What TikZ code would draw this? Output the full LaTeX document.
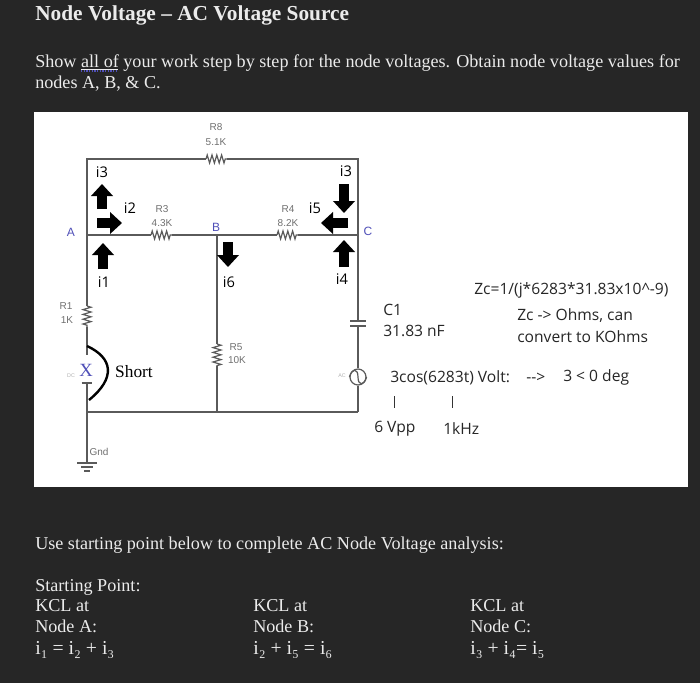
\documentclass[tikz,border=0pt]{standalone}
\usepackage{fontspec}
\setmainfont{Liberation Serif}
\newfontfamily\labelfont{Liberation Sans}
\newfontfamily\notefont{Open Sans}
\usepackage{tikz}
\usetikzlibrary{arrows.meta}
\usetikzlibrary{decorations.pathmorphing}
\definecolor{pagebg}{HTML}{262626}
\definecolor{wiregray}{HTML}{5A5A5A}
\definecolor{partgray}{HTML}{707070}
\definecolor{nodeblue}{HTML}{5050B8}
\tikzset{
  wire/.style={draw=wiregray, line width=0.9pt},
  res/.style={wire, decorate, decoration={zigzag, segment length=3.6pt, amplitude=3pt}},
  current/.style={-{Triangle[length=9pt,width=16pt]}, line width=7.5pt, black},
  pagetext/.style={anchor=base west, inner sep=0pt, text=white!92!black, font=\fontsize{13.6}{16}\selectfont},
  eqtext/.style={pagetext, font=\fontsize{14.8}{16}\selectfont},
  part/.style={inner sep=0pt, text=partgray, font=\labelfont\fontsize{7.5}{9}\selectfont},
  nodename/.style={inner sep=0pt, text=nodeblue, font=\labelfont\fontsize{9}{10}\selectfont},
  cur/.style={inner sep=0pt, font=\notefont\fontsize{11}{12}\selectfont},
  note/.style={anchor=west, inner sep=0pt, text=black!85, font=\notefont\fontsize{11.7}{13}\selectfont}
}
\begin{document}
\begin{tikzpicture}[x=0.75pt,y=-0.75pt]
\useasboundingbox (0,0) rectangle (700,683);
\fill[pagebg] (0,0) rectangle (700,683);
\fill[white] (34,112) rectangle (688,487);
% circuit points
\coordinate (tl) at (87,159);
\coordinate (tr) at (358,159);
\coordinate (A) at (87,235);
\coordinate (B) at (217,235);
\coordinate (C) at (358,235);
\coordinate (bl) at (87,412);
\coordinate (bm) at (217,412);
\coordinate (br) at (358,412);
\coordinate (r8a) at (206,159);
\coordinate (r8b) at (227,159);
\coordinate (r3a) at (151,235);
\coordinate (r3b) at (172,235);
\coordinate (r4a) at (277,235);
\coordinate (r4b) at (298,235);
\coordinate (r1a) at (87,306);
\coordinate (r1b) at (87,327);
\coordinate (r5a) at (217,344);
\coordinate (r5b) at (217,366);
\coordinate (c1a) at (358,321);
\coordinate (c1b) at (358,326);
\coordinate (batt) at (87,383);
\coordinate (batttop) at (87,355);
\coordinate (gnd) at (87,463);
\coordinate (gnda) at (77,463);
\coordinate (gndb) at (97,463);
\coordinate (gndc) at (81,467);
\coordinate (gndd) at (93,467);
\coordinate (gnde) at (84,471);
\coordinate (gndf) at (90,471);
\coordinate (shorta) at (87,346);
\coordinate (shortb) at (89,400);
% current arrow ends
\coordinate (i3lfrom) at (102,209);
\coordinate (i3lto) at (102,184);
\coordinate (i2from) at (97,223);
\coordinate (i2to) at (122,223);
\coordinate (i1from) at (103,269);
\coordinate (i1to) at (103,243);
\coordinate (i6from) at (228,242);
\coordinate (i6to) at (228,267);
\coordinate (i4from) at (344,267);
\coordinate (i4to) at (344,240);
\coordinate (i3rfrom) at (344,184);
\coordinate (i3rto) at (344,213);
\coordinate (i5from) at (348,223);
\coordinate (i5to) at (321,223);
\coordinate (dota) at (81,71);
\coordinate (dotb) at (118,71);
\coordinate (ula) at (81,69);
\coordinate (ulb) at (118,69);
\coordinate (bar1a) at (394,396);
\coordinate (bar1b) at (394,408);
\coordinate (bar2a) at (452,396);
\coordinate (bar2b) at (452,408);
% page text
\node[pagetext, font=\bfseries\fontsize{16}{18}\selectfont] (title) at (35,20) {Node Voltage -- AC Voltage Source};
\node[pagetext] (ask1) at (35,67) {Show all of your work step by step for the node voltages. Obtain node voltage values for};
\node[pagetext] (ask2) at (35,88) {nodes A, B, \& C.};
\node[pagetext] (use) at (35,549) {Use starting point below to complete AC Node Voltage analysis:};
\node[pagetext] (start) at (35,591) {Starting Point:};
\node[pagetext] (kcla) at (35,611) {KCL at};
\node[pagetext] (nodea) at (35,632) {Node A:};
\node[eqtext] (eqa) at (35,654) {i₁ = i₂ + i₃};
\node[pagetext] (kclb) at (253,611) {KCL at};
\node[pagetext] (nodeb) at (253,632) {Node B:};
\node[eqtext] (eqb) at (253,654) {i₂ + i₅ = i₆};
\node[pagetext] (kclc) at (470,611) {KCL at};
\node[pagetext] (nodec) at (470,632) {Node C:};
\node[eqtext] (eqc) at (470,654) {i₃ + i₄= i₅};
\draw[white!92!black, line width=0.6pt] (ula) -- (ulb);
\draw[nodeblue, line width=1pt, densely dotted] (dota) -- (dotb);
% draws wires
\node[circle, draw=wiregray, line width=0.9pt, minimum size=12pt, inner sep=0pt] (src) at (358,377) {};
\draw[wire] (A) -- (tl) -- (r8a);
\draw[res] (r8a) -- (r8b);
\draw[wire] (r8b) -- (tr) -- (C);
\draw[wire] (A) -- (r3a);
\draw[res] (r3a) -- (r3b);
\draw[wire] (r3b) -- (B);
\draw[wire] (B) -- (r4a);
\draw[res] (r4a) -- (r4b);
\draw[wire] (r4b) -- (C);
\draw[wire] (A) -- (r1a);
\draw[res] (r1a) -- (r1b);
\draw[wire] (r1b) -- (batttop);
\draw[wire] (B) -- (r5a);
\draw[res] (r5a) -- (r5b);
\draw[wire] (r5b) -- (bm);
\draw[wire] (C) -- (c1a);
\draw[wire] (c1b) -- (src);
\draw[wire] (src) -- (br);
\draw[wire] (src.west) .. controls (352,368) and (358,368) .. (src.center) .. controls (358,386) and (364,386) .. (src.east);
\draw[wire] (bl) -- (br);
\draw[wire] (batt) -- (gnd);
% capacitor and ground plates
\draw[wire] ([xshift=-6pt]c1a) -- ([xshift=6pt]c1a);
\draw[wire] ([xshift=-6pt]c1b) -- ([xshift=6pt]c1b);
\draw[wire] ([xshift=-4pt]batt) -- ([xshift=4pt]batt);
\draw[wire] (gnda) -- (gndb);
\draw[wire] (gndc) -- (gndd);
\draw[wire] (gnde) -- (gndf);
% short
\draw[black, line width=1.8pt] (shorta) .. controls (113,358) and (116,378) .. (shortb);
% current arrows
\draw[current] (i3lfrom) -- (i3lto);
\draw[current] (i2from) -- (i2to);
\draw[current] (i1from) -- (i1to);
\draw[current] (i6from) -- (i6to);
\draw[current] (i4from) -- (i4to);
\draw[current] (i3rfrom) -- (i3rto);
\draw[current] (i5from) -- (i5to);
% labels parts
\node[part] (r8name) at (216,127) {R8};
\node[part] (r8val) at (216,142) {5.1K};
\node[part] (r3name) at (162,209) {R3};
\node[part] (r3val) at (162,223) {4.3K};
\node[part] (r4name) at (288,209) {R4};
\node[part] (r4val) at (288,223) {8.2K};
\node[part] (r1name) at (66,306) {R1};
\node[part] (r1val) at (67,320) {1K};
\node[part] (r5name) at (236,347) {R5};
\node[part] (r5val) at (237,360) {10K};
\node[part] (gndname) at (99,452) {Gnd};
\node[part, text=black!30, font=\labelfont\fontsize{4}{5}\selectfont] (dcname) at (71,376) {DC};
\node[part, text=black!30, font=\labelfont\fontsize{4}{5}\selectfont] (acname) at (342,376) {AC};
% labels nodes
\node[nodename] (Aname) at (71,232) {A};
\node[nodename] (Bname) at (216,227) {B};
\node[nodename] (Cname) at (368,231) {C};
\node[inner sep=0pt, text=nodeblue, font=\fontsize{14}{16}\selectfont] (xmark) at (86,370) {X};
\node[inner sep=0pt, font=\fontsize{13}{15}\selectfont] (shortname) at (134,372) {Short};
% labels currents
\node[cur] (i3lname) at (102,172) {i3};
\node[cur] (i3rname) at (346,171) {i3};
\node[cur] (i2name) at (130,208) {i2};
\node[cur] (i5name) at (315,208) {i5};
\node[cur] (i1name) at (104,282) {i1};
\node[cur] (i6name) at (229,282) {i6};
\node[cur] (i4name) at (342,279) {i4};
% notes
\node[note] (c1name) at (383,310) {C1};
\node[note] (c1val) at (383,331) {31.83 nF};
\node[note] (zc) at (474,290) {Zc=1/(j*6283*31.83x10\^{}-9)};
\node[note] (zcb) at (517,316) {Zc -> Ohms, can};
\node[note] (zcc) at (517,337) {convert to KOhms};
\node[note] (vs) at (390,378) {3cos(6283t) Volt:};
\node[note] (vsb) at (526,378) {-->};
\node[note] (vsc) at (563,377) {3 < 0 deg};
\node[note] (vpp) at (374,429) {6 Vpp};
\node[note] (khz) at (443,429) {1kHz};
\draw[black!80, line width=0.75pt] (bar1a) -- (bar1b);
\draw[black!80, line width=0.75pt] (bar2a) -- (bar2b);
\end{tikzpicture}
\end{document}
